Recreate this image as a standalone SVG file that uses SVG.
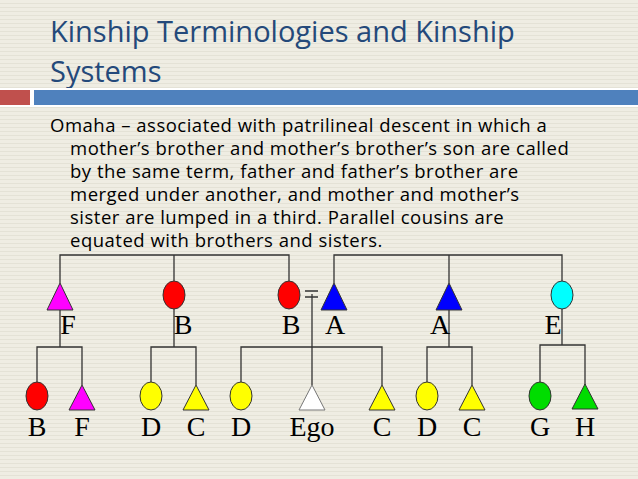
<svg xmlns="http://www.w3.org/2000/svg" width="638" height="479" viewBox="0 0 638 479">
<defs>
<pattern id="stripes" width="8" height="4" patternUnits="userSpaceOnUse"><rect width="8" height="4" fill="#efede3"/><rect y="3" width="8" height="1" fill="#e4e2d6"/></pattern>
<style>
.t{font-family:"Open Sans","DejaVu Sans",sans-serif}
.title{font-size:29px;fill:#24497a}
.body{font-size:18.5px;letter-spacing:0.5px;fill:#000}
.lbl{font-family:"Liberation Serif",serif;font-size:28px;fill:#000;text-anchor:middle}
.ln{stroke:#333;stroke-width:1.3;fill:none}
.s{stroke:#333;stroke-width:1}
</style>
</defs>
<rect width="638" height="479" fill="url(#stripes)"/>
<text class="t title" x="50" y="42">Kinship Terminologies and Kinship</text>
<text class="t title" x="50" y="82">Systems</text>
<rect x="0" y="88" width="638" height="19" fill="#fff"/>
<rect x="0" y="90" width="30" height="15" fill="#c0504d"/>
<rect x="34" y="90" width="604" height="15" fill="#4f81bd"/>
<g class="t body">
<text x="50" y="132">Omaha – associated with patrilineal descent in which a</text>
<text x="70" y="155">mother’s brother and mother’s brother’s son are called</text>
<text x="70" y="178">by the same term, father and father’s brother are</text>
<text x="70" y="201">merged under another,  and mother and mother’s</text>
<text x="70" y="224">sister are lumped in  a third. Parallel cousins are</text>
<text x="70" y="247">equated with brothers and sisters.</text>
</g>
<g id="connectors" class="ln">
<path d="M60 283V255H289V281M174 255V281"/>
<path d="M334 283V255H562V281M449 255V283"/>
<path d="M60 310V347M37 382V347H82V385"/>
<path d="M174 309V347M151 382V347H196V385"/>
<path d="M305 291H318M305 297H318M312 294V385"/>
<path d="M241 382V347H382V385"/>
<path d="M449 310V347M427 382V347H472V385"/>
<path d="M562 309V345M540 382V345H585V385"/>
</g>
<g id="n1"><path class="s" d="M60 283L73 310H47Z" fill="#ff00ff"/><text class="lbl" x="68" y="334">F</text></g>
<g id="n2"><ellipse class="s" cx="174" cy="295" rx="11" ry="14" fill="#ff0000"/><text class="lbl" x="183" y="334">B</text></g>
<g id="n3"><ellipse class="s" cx="289" cy="295" rx="11" ry="14" fill="#ff0000"/><text class="lbl" x="291" y="334">B</text></g>
<g id="n4"><path class="s" d="M334 283L347 310H321Z" fill="#0000ff"/><text class="lbl" x="335" y="334">A</text></g>
<g id="n5"><path class="s" d="M449 283L462 310H436Z" fill="#0000ff"/><text class="lbl" x="440" y="334">A</text></g>
<g id="n6"><ellipse class="s" cx="562" cy="295" rx="11" ry="14" fill="#00ffff"/><text class="lbl" x="553" y="334">E</text></g>
<g id="c1"><ellipse class="s" cx="37" cy="396" rx="11" ry="14" fill="#ff0000"/><text class="lbl" x="37" y="436">B</text></g>
<g id="c2"><path class="s" d="M82 385L95 410H69Z" fill="#ff00ff"/><text class="lbl" x="82" y="436">F</text></g>
<g id="c3"><ellipse class="s" cx="151" cy="396" rx="11" ry="14" fill="#ffff00"/><text class="lbl" x="151" y="436">D</text></g>
<g id="c4"><path class="s" d="M196 385L209 410H183Z" fill="#ffff00"/><text class="lbl" x="196" y="436">C</text></g>
<g id="c5"><ellipse class="s" cx="241" cy="396" rx="11" ry="14" fill="#ffff00"/><text class="lbl" x="241" y="436">D</text></g>
<g id="ego"><path d="M312 385L325 410H299Z" fill="#fff" stroke="#777"/><text class="lbl" x="312" y="436">Ego</text></g>
<g id="c6"><path class="s" d="M382 385L395 410H369Z" fill="#ffff00"/><text class="lbl" x="382" y="436">C</text></g>
<g id="c7"><ellipse class="s" cx="427" cy="396" rx="11" ry="14" fill="#ffff00"/><text class="lbl" x="427" y="436">D</text></g>
<g id="c8"><path class="s" d="M472 385L485 410H459Z" fill="#ffff00"/><text class="lbl" x="472" y="436">C</text></g>
<g id="c9"><ellipse class="s" cx="540" cy="396" rx="11" ry="14" fill="#00dd00"/><text class="lbl" x="540" y="436">G</text></g>
<g id="c10"><path class="s" d="M585 384L598 409H572Z" fill="#00dd00"/><text class="lbl" x="585" y="436">H</text></g>
</svg>
